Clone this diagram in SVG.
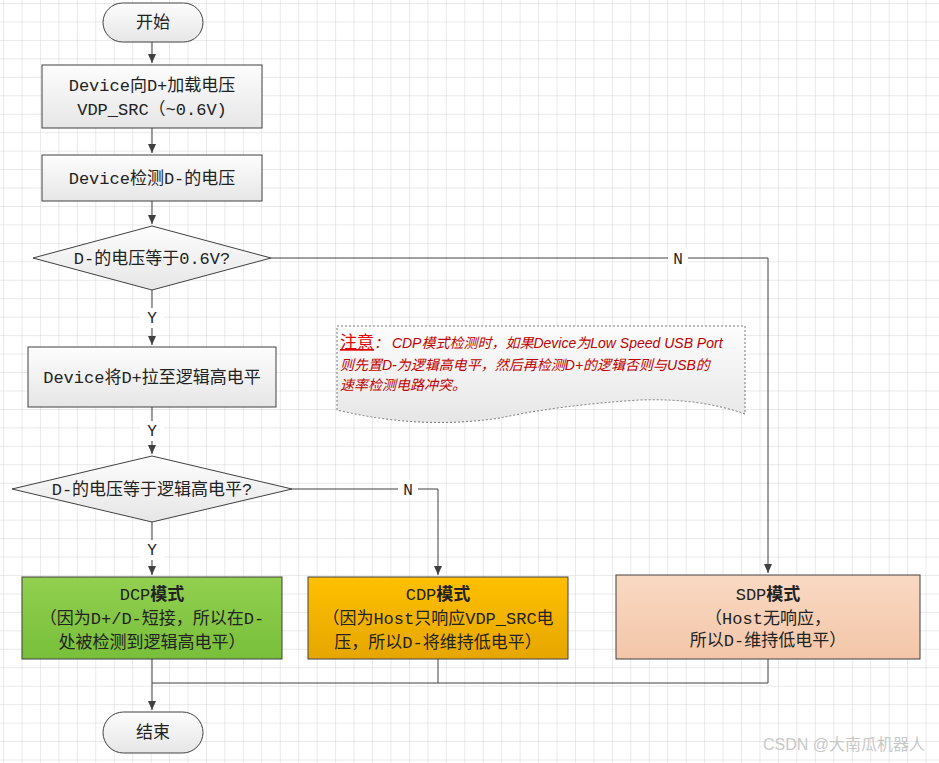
<svg xmlns="http://www.w3.org/2000/svg" width="939" height="763" viewBox="0 0 939 763">
<defs>
<pattern id="grid" width="18.45" height="18.45" patternUnits="userSpaceOnUse" x="4" y="4">
<path d="M18.45 0V18.45H0" fill="none" stroke="#d4d4d4" stroke-width="1"/>
</pattern>
<linearGradient id="gw" x1="0" y1="0" x2="0" y2="1"><stop offset="0" stop-color="#fdfdfd"/><stop offset="1" stop-color="#e6e6e6"/></linearGradient>
<linearGradient id="gg" x1="0" y1="0" x2="0" y2="1"><stop offset="0" stop-color="#92d050"/><stop offset="1" stop-color="#78bf3a"/></linearGradient>
<linearGradient id="go" x1="0" y1="0" x2="0" y2="1"><stop offset="0" stop-color="#ffc000"/><stop offset="1" stop-color="#e6a600"/></linearGradient>
<linearGradient id="gs" x1="0" y1="0" x2="0" y2="1"><stop offset="0" stop-color="#f9d9c3"/><stop offset="1" stop-color="#f3c6a8"/></linearGradient>
<marker id="ar" markerWidth="10" markerHeight="10" refX="9" refY="5" orient="auto" markerUnits="userSpaceOnUse"><path d="M0 1L9 5L0 9z" fill="#404040"/></marker>
</defs>
<style>
.n{stroke:#404040;stroke-width:1}
.t{font-family:"Liberation Mono","Noto Sans CJK SC",monospace;font-size:17px;fill:#222;text-anchor:middle}
.b{font-family:"Liberation Sans","Noto Sans CJK SC",sans-serif;font-weight:bold}
.c{fill:none;stroke:#404040;stroke-width:1}
.l{font-family:"Liberation Mono",monospace;font-size:16px;fill:#222;text-anchor:middle}
.nt{font-family:"Liberation Sans","Noto Sans CJK SC",sans-serif;font-size:14px;font-style:italic;fill:#c00000}
</style>
<rect width="939" height="763" fill="#fff"/>
<rect width="939" height="763" fill="url(#grid)"/>
<g id="connectors">
<path class="c" d="M152 42V63" marker-end="url(#ar)"/>
<path class="c" d="M152 128V153" marker-end="url(#ar)"/>
<path class="c" d="M152 201V224" marker-end="url(#ar)"/>
<path class="c" d="M152 290V345" marker-end="url(#ar)"/>
<path class="c" d="M152 407V454" marker-end="url(#ar)"/>
<path class="c" d="M152 522V575" marker-end="url(#ar)"/>
<path class="c" d="M271 258H768V573" marker-end="url(#ar)"/>
<path class="c" d="M292 489H438V575" marker-end="url(#ar)"/>
<path class="c" d="M152 659V710" marker-end="url(#ar)"/>
<path class="c" d="M438 659V683M768 659V683H152"/>
<rect x="140" y="308" width="24" height="20" fill="#fff"/><text class="l" x="152" y="323">Y</text>
<rect x="140" y="421" width="24" height="20" fill="#fff"/><text class="l" x="152" y="436">Y</text>
<rect x="140" y="540" width="24" height="20" fill="#fff"/><text class="l" x="152" y="555">Y</text>
<rect x="668" y="249" width="20" height="18" fill="#fff"/><text class="l" x="678" y="264">N</text>
<rect x="398" y="480" width="20" height="18" fill="#fff"/><text class="l" x="408" y="495">N</text>
</g>
<g id="start"><rect class="n" x="103" y="3" width="100" height="39" rx="19.5" fill="url(#gw)"/><text class="t" x="153" y="28">开始</text></g>
<g id="box1"><rect class="n" x="42" y="65" width="220" height="63" fill="url(#gw)"/><text class="t" x="152" y="91">Device向D+加载电压</text><text class="t" x="152" y="115">VDP_SRC（~0.6V)</text></g>
<g id="box2"><rect class="n" x="42" y="155" width="220" height="46" fill="url(#gw)"/><text class="t" x="152" y="184">Device检测D-的电压</text></g>
<g id="dia1"><path class="n" d="M33 258L152 226L271 258L152 290Z" fill="url(#gw)"/><text class="t" x="152" y="264">D-的电压等于0.6V?</text></g>
<g id="box3"><rect class="n" x="28" y="347" width="248" height="60" fill="url(#gw)"/><text class="t" x="152" y="383">Device将D+拉至逻辑高电平</text></g>
<g id="dia2"><path class="n" d="M12 489L152 456L292 489L152 522Z" fill="url(#gw)"/><text class="t" x="152" y="495">D-的电压等于逻辑高电平?</text></g>
<g id="dcp"><rect class="n" x="22" y="577" width="260" height="82" fill="url(#gg)"/><text class="t" x="152" y="600">DCP<tspan class="b">模式</tspan></text><text class="t" x="152" y="624">（因为D+/D-短接，所以在D-</text><text class="t" x="152" y="648">处被检测到逻辑高电平）</text></g>
<g id="cdp"><rect class="n" x="308" y="577" width="260" height="82" fill="url(#go)"/><text class="t" x="438" y="600">CDP<tspan class="b">模式</tspan></text><text class="t" x="438" y="624">（因为Host只响应VDP_SRC电</text><text class="t" x="438" y="648">压，所以D-将维持低电平）</text></g>
<g id="sdp"><rect class="n" x="616" y="575" width="304" height="84" fill="url(#gs)"/><text class="t" x="768" y="600">SDP<tspan class="b">模式</tspan></text><text class="t" x="768" y="624">（Host无响应，</text><text class="t" x="768" y="646">所以D-维持低电平）</text></g>
<g id="end"><rect class="n" x="103" y="712" width="100" height="41" rx="20.5" fill="url(#gw)"/><text class="t" x="153" y="738">结束</text></g>
<g id="note">
<path d="M337 326H745V414Q700 398 640 400Q560 405 500 418Q420 430 337 410Z" fill="url(#gw)" stroke="#777" stroke-dasharray="2 2"/>
<text class="nt" x="340" y="348"><tspan font-size="17" font-style="normal" text-decoration="underline" fill="#e00000">注意</tspan>：  CDP模式检测时，如果Device为Low Speed USB Port</text>
<text class="nt" x="340" y="370">则先置D-为逻辑高电平，然后再检测D+的逻辑否则与USB的</text>
<text class="nt" x="340" y="390">速率检测电路冲突。</text>
</g>
<text x="925" y="750" font-family="Liberation Sans,'Noto Sans CJK SC',sans-serif" font-size="16" fill="#c8c8c8" text-anchor="end">CSDN @大南瓜机器人</text>
</svg>
